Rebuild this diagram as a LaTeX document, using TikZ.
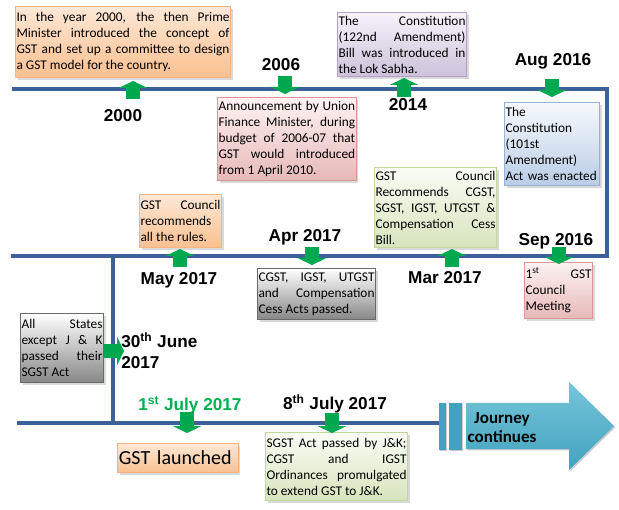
\documentclass[tikz,border=0pt]{standalone}
\usepackage{fontspec}
\setmainfont{Carlito}
\newfontfamily\datefont{Liberation Sans}
\usetikzlibrary{arrows.meta, positioning, shadows}

\definecolor{lineblue}{RGB}{60,96,152}
\definecolor{gstgreen}{RGB}{0,168,80}
\definecolor{launchgreen}{RGB}{0,176,80}
\definecolor{peachtop}{RGB}{253,232,214}
\definecolor{peachbot}{RGB}{250,192,144}
\definecolor{peachline}{RGB}{248,180,128}
\definecolor{pinktop}{RGB}{253,242,242}
\definecolor{pinkbot}{RGB}{230,185,184}
\definecolor{pinkline}{RGB}{217,150,148}
\definecolor{lilactop}{RGB}{246,243,250}
\definecolor{lilacbot}{RGB}{204,193,218}
\definecolor{lilacline}{RGB}{179,162,199}
\definecolor{bluetop}{RGB}{246,249,253}
\definecolor{bluebot}{RGB}{185,205,229}
\definecolor{blueline}{RGB}{149,179,215}
\definecolor{greentop}{RGB}{250,252,245}
\definecolor{greenbot}{RGB}{215,228,189}
\definecolor{greenline}{RGB}{195,214,155}
\definecolor{greytop}{RGB}{255,255,255}
\definecolor{greybot}{RGB}{135,135,135}
\definecolor{greyline}{RGB}{105,105,105}
\definecolor{journeyteal}{RGB}{66,162,190}
\definecolor{journeylight}{RGB}{118,198,218}

\hyphenpenalty=10000
\tolerance=10000
\hbadness=10000

\begin{document}
\begin{tikzpicture}[
    x=0.75pt, y=0.75pt,
    box/.style={rectangle, line width=0.8pt, inner xsep=0.75pt, inner ysep=1pt, anchor=north west, align=justify, font=\fontsize{10}{12}\selectfont, drop shadow={shadow xshift=1.5pt, shadow yshift=-1.5pt, opacity=0.3}},
    peachbox/.style={box, draw=peachline, top color=peachtop, bottom color=peachbot},
    pinkbox/.style={box, draw=pinkline, top color=pinktop, bottom color=pinkbot},
    lilacbox/.style={box, draw=lilacline, top color=lilactop, bottom color=lilacbot},
    bluebox/.style={box, draw=blueline, top color=bluetop, bottom color=bluebot},
    greenbox/.style={box, draw=greenline, top color=greentop, bottom color=greenbot},
    greybox/.style={box, draw=greyline, top color=greytop, bottom color=greybot},
    datefnt/.style={font=\datefont\bfseries\fontsize{12.9}{15.75}\selectfont, inner sep=0pt},
    datelbl/.style={datefnt, text height=9.25pt, text depth=0pt},
    garrow/.style={draw=gstgreen, line width=10pt, -{Triangle[length=5.25pt, width=21.75pt, line width=0pt]}},
    timeline/.style={draw=lineblue, line width=3pt},
    stripe/.style={fill=journeyteal, drop shadow={shadow xshift=1pt, shadow yshift=-1pt, opacity=0.4}}
]
\useasboundingbox (0,0) rectangle (619,-510);

% Time line
\draw[timeline] (12,-89) -- (607,-89) -- (607,-256) -- (11,-256);
\draw[timeline] (113,-256) -- (113,-423);
\draw[timeline] (17,-423) -- (441,-423);

% Points on the line
\coordinate (t2000) at (133,-89);
\coordinate (t2006) at (285,-89);
\coordinate (t2014) at (404,-89);
\coordinate (tAug16) at (552,-89);
\coordinate (tSep16) at (559,-256);
\coordinate (tMar17) at (452,-256);
\coordinate (tApr17) at (312,-256);
\coordinate (tMay17) at (180,-256);
\coordinate (t30jun) at (113,-351);
\coordinate (t1jul) at (187,-423);
\coordinate (t8jul) at (332,-423);

% Row 1 boxes
\node[peachbox, text width=159.75pt, minimum height=53.25pt] (e2000) at (15,-6) {In the year 2000, the then Prime\linebreak Minister introduced the concept of\linebreak GST and set up a committee to design\linebreak a GST model for the country.};
\node[pinkbox, text width=102.5pt, minimum height=62.25pt] (e2006) at (217,-97) {Announcement by Union\linebreak Finance Minister, during\linebreak budget of 2006-07 that\linebreak GST would introduced\linebreak from 1 April 2010.};
\node[lilacbox, text width=95.25pt, minimum height=48pt] (e2014) at (337,-12) {The Constitution\linebreak (122nd Amendment)\linebreak Bill was introduced in\linebreak the Lok Sabha.};
\node[bluebox, align=left, text width=70pt, minimum height=62.25pt] (eAug16) at (504,-102) {The\\Constitution\\(101st\\Amendment)\\\mbox{Act was enacted}};

% Row 2 boxes
\node[pinkbox, text width=49.5pt, minimum height=42pt] (eSep16) at (524,-262) {1\textsuperscript{st} GST\linebreak Council\linebreak Meeting};
\node[greenbox, text width=90pt, minimum height=60pt] (eMar17) at (374,-167) {GST Council\linebreak Recommends CGST,\linebreak SGST, IGST, UTGST \&\linebreak Compensation Cess\linebreak Bill.};
\node[greybox, text width=87pt, minimum height=38.25pt] (eApr17) at (257,-268) {CGST, IGST, UTGST\linebreak and Compensation\linebreak Cess Acts passed.};
\node[peachbox, text width=60pt, minimum height=39.75pt] (eMay17) at (139,-194) {GST Council\linebreak recommends\linebreak all the rules.};

% Row 3 boxes
\node[greybox, text width=60.75pt, minimum height=51.75pt] (e30jun) at (20,-313) {All States\linebreak except J \& K\linebreak passed their\linebreak SGST Act};
\node[peachbox, align=left, text width=88.5pt, minimum height=21.75pt, inner xsep=1pt, font=\fontsize{15}{18}\selectfont] (eLaunch) at (117,-443) {GST launched};
\node[greenbox, text width=105pt, minimum height=51pt] (e8jul) at (265,-432) {SGST Act passed by J\&K;\linebreak CGST and IGST\linebreak Ordinances promulgated\linebreak to extend GST to J\&K.};

% Dates
\node[datelbl] (d2000) at (123,-115) {2000};
\node[datelbl] (d2006) at (281,-64) {2006};
\node[datelbl] (d2014) at (408,-104) {2014};
\node[datelbl] (dAug16) at (553,-59) {Aug 2016};
\node[datelbl] (dSep16) at (556,-239) {Sep 2016};
\node[datelbl] (dMar17) at (445,-277) {Mar 2017};
\node[datelbl] (dApr17) at (305,-235) {Apr 2017};
\node[datelbl] (dMay17) at (179,-278) {May 2017};
\node[datefnt, align=left, right=6pt of t30jun] (d30jun) {30\textsuperscript{th} June\\2017};
\node[datelbl, text=launchgreen] (d1jul) at (190,-404) {1\textsuperscript{st} July 2017};
\node[datelbl] (d8jul) at (335,-403) {8\textsuperscript{th} July 2017};

% Arrows - row 1
\draw[garrow] ([yshift=-7.5pt]t2000) -- ([yshift=6pt]t2000);
\draw[garrow] ([yshift=9.75pt]t2006) -- ([yshift=-3.75pt]t2006);
\draw[garrow] ([yshift=-6pt]t2014) -- ([yshift=8.25pt]t2014);
\draw[garrow] ([yshift=7.5pt]tAug16) -- ([yshift=-6pt]tAug16);

% Arrows - row 2
\draw[garrow] ([yshift=6.75pt]tSep16) -- ([yshift=-6pt]tSep16);
\draw[garrow] ([yshift=-8.25pt]tMar17) -- ([yshift=5.25pt]tMar17);
\draw[garrow] ([yshift=6.75pt]tApr17) -- ([yshift=-6.75pt]tApr17);
\draw[garrow] ([yshift=-8.25pt]tMay17) -- ([yshift=5.25pt]tMay17);

% Arrows - row 3
\draw[garrow] (e30jun.east |- t30jun) -- ([xshift=8.25pt]t30jun);
\draw[garrow] ([yshift=8.25pt]t1jul) -- ([yshift=-7.5pt]t1jul);
\draw[garrow] ([yshift=7.5pt]t8jul) -- ([yshift=-7.5pt]t8jul);

% Journey continues
\fill[stripe] (439,-403) rectangle (446,-450);
\fill[stripe] (449,-403) rectangle (462,-450);
\shade[top color=journeylight, bottom color=journeyteal, drop shadow={shadow xshift=1pt, shadow yshift=-1pt, opacity=0.4}]
    (466,-403) -- (569,-403) -- (569,-382) -- (614,-426) -- (569,-470) -- (569,-449) -- (466,-449) -- cycle;
\node[font=\bfseries\fontsize{12.75}{14.25}\selectfont, align=center, inner sep=0pt] (journey) at (502,-427.5) {Journey\\continues};

\end{tikzpicture}
\end{document}
